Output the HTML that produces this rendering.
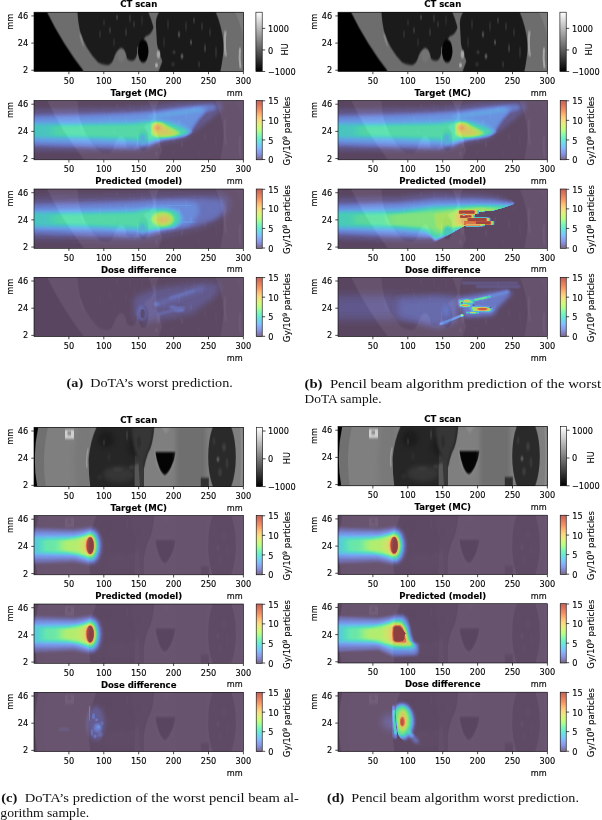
<!DOCTYPE html>
<html><head><meta charset="utf-8"><title>Figure</title>
<style>
html,body{margin:0;padding:0;background:#fff}
body{width:602px;height:820px;position:relative;overflow:hidden}
svg.fig{position:absolute;left:0;top:0}
svg.fig text{font-family:"DejaVu Sans","Liberation Sans",sans-serif;font-size:8.2px;fill:#000;stroke:#000;stroke-width:0.12px}
svg.fig text.cap{font-family:"Liberation Serif","DejaVu Serif",serif;font-size:11.8px;fill:#111;stroke:none}
</style></head><body>
<svg class="fig" width="602" height="820" viewBox="0 0 602 820">
<defs><filter id="turbo" color-interpolation-filters="sRGB" x="0" y="0" width="1" height="1"><feComponentTransfer><feFuncR type="table" tableValues="0.190 0.209 0.225 0.239 0.251 0.261 0.268 0.273 0.276 0.277 0.275 0.271 0.259 0.239 0.214 0.186 0.152 0.127 0.107 0.095 0.093 0.103 0.127 0.163 0.209 0.262 0.320 0.381 0.443 0.504 0.560 0.611 0.664 0.706 0.746 0.786 0.823 0.859 0.891 0.920 0.945 0.965 0.980 0.990 0.995 0.997 0.994 0.988 0.975 0.962 0.945 0.926 0.905 0.881 0.854 0.824 0.791 0.756 0.717 0.675 0.631 0.583 0.533 0.480"/><feFuncG type="table" tableValues="0.072 0.118 0.164 0.208 0.252 0.296 0.338 0.380 0.421 0.462 0.501 0.540 0.580 0.619 0.659 0.698 0.745 0.780 0.814 0.845 0.872 0.896 0.917 0.936 0.953 0.968 0.980 0.989 0.996 0.999 0.999 0.995 0.985 0.973 0.956 0.936 0.913 0.887 0.858 0.828 0.796 0.764 0.730 0.694 0.653 0.610 0.564 0.517 0.457 0.411 0.366 0.325 0.287 0.253 0.222 0.192 0.164 0.137 0.113 0.090 0.069 0.049 0.032 0.016"/><feFuncB type="table" tableValues="0.232 0.346 0.451 0.547 0.634 0.712 0.780 0.840 0.891 0.933 0.966 0.989 0.999 0.995 0.980 0.955 0.914 0.876 0.835 0.793 0.752 0.715 0.676 0.631 0.582 0.530 0.477 0.424 0.373 0.327 0.286 0.253 0.224 0.210 0.204 0.203 0.207 0.212 0.219 0.225 0.228 0.228 0.222 0.210 0.196 0.178 0.159 0.139 0.113 0.093 0.075 0.058 0.045 0.035 0.027 0.020 0.014 0.009 0.006 0.004 0.004 0.005 0.007 0.011"/></feComponentTransfer></filter><filter id="b07" x="-50%" y="-50%" width="200%" height="200%" color-interpolation-filters="sRGB"><feGaussianBlur stdDeviation="0.75 0.9"/></filter><filter id="b05" x="-50%" y="-50%" width="200%" height="200%" color-interpolation-filters="sRGB"><feGaussianBlur stdDeviation="0.5"/></filter><filter id="b1" x="-50%" y="-50%" width="200%" height="200%" color-interpolation-filters="sRGB"><feGaussianBlur stdDeviation="1"/></filter><filter id="b15" x="-50%" y="-50%" width="200%" height="200%" color-interpolation-filters="sRGB"><feGaussianBlur stdDeviation="1.5"/></filter><filter id="b2" x="-50%" y="-50%" width="200%" height="200%" color-interpolation-filters="sRGB"><feGaussianBlur stdDeviation="2"/></filter><filter id="b3" x="-50%" y="-50%" width="200%" height="200%" color-interpolation-filters="sRGB"><feGaussianBlur stdDeviation="3"/></filter><filter id="b4" x="-50%" y="-50%" width="200%" height="200%" color-interpolation-filters="sRGB"><feGaussianBlur stdDeviation="4"/></filter><filter id="b6" x="-50%" y="-50%" width="200%" height="200%" color-interpolation-filters="sRGB"><feGaussianBlur stdDeviation="6"/></filter><filter id="bx4" x="-50%" y="-50%" width="200%" height="200%" color-interpolation-filters="sRGB"><feGaussianBlur stdDeviation="4 1.2"/></filter><filter id="bx8" x="-50%" y="-50%" width="200%" height="200%" color-interpolation-filters="sRGB"><feGaussianBlur stdDeviation="8 2"/></filter><filter id="bx3" x="-50%" y="-50%" width="200%" height="200%" color-interpolation-filters="sRGB"><feGaussianBlur stdDeviation="3 1"/></filter><filter id="bx2" x="-50%" y="-50%" width="200%" height="200%" color-interpolation-filters="sRGB"><feGaussianBlur stdDeviation="2 0.7"/></filter><linearGradient id="cbg" x1="0" y1="0" x2="0" y2="1"><stop offset="0" stop-color="#fff"/><stop offset="1" stop-color="#000"/></linearGradient><linearGradient id="cbt" x1="0" y1="0" x2="0" y2="1"><stop offset="0" stop-color="#be635a"/><stop offset="0.04" stop-color="#d06c5a"/><stop offset="0.08" stop-color="#df775c"/><stop offset="0.12" stop-color="#eb835f"/><stop offset="0.17" stop-color="#f59465"/><stop offset="0.21" stop-color="#fba76d"/><stop offset="0.25" stop-color="#febb75"/><stop offset="0.29" stop-color="#fdcc7c"/><stop offset="0.33" stop-color="#f7dc7f"/><stop offset="0.38" stop-color="#ece97d"/><stop offset="0.42" stop-color="#ddf37b"/><stop offset="0.46" stop-color="#ccfb7d"/><stop offset="0.5" stop-color="#b8ff87"/><stop offset="0.54" stop-color="#a0fe99"/><stop offset="0.58" stop-color="#87faaf"/><stop offset="0.62" stop-color="#73f4c4"/><stop offset="0.67" stop-color="#69ead6"/><stop offset="0.71" stop-color="#6ddde7"/><stop offset="0.75" stop-color="#77cef6"/><stop offset="0.79" stop-color="#82befe"/><stop offset="0.83" stop-color="#87acf9"/><stop offset="0.88" stop-color="#879ce9"/><stop offset="0.92" stop-color="#848acf"/><stop offset="0.96" stop-color="#8078ac"/><stop offset="1" stop-color="#796580"/></linearGradient><g id="ct1"><g id="ct1r"><rect width="209.4" height="59.3" fill="#000"/><path d="M12.6,-1 Q28,31 50.5,60 L51.5,61 L211,61 L211,-1 Z" fill="#6d6d6d"/><path d="M43.3,-1 Q44,10 46,19 Q48.5,28 53,35.5 Q58,44 64,50 Q69,53.5 75,52.5 Q79,50.5 80.5,44 Q84,35 88.5,36.5 Q92,38.5 93,46.5 Q97,50.5 101,47 Q104,42 103,36 Q107,30 112,24 Q118,22 119.5,15 Q117,6 114,-1 Z" fill="#1b1b1b"/><ellipse cx="109.2" cy="38.8" rx="5.3" ry="11.5" fill="#030303" filter="url(#b05)"/><path d="M125.7,-1 Q121,6 122,14 Q122.5,24 123,32 Q125,42 128.4,49 Q126,55 124,61 L186,61 Q189.5,45 189.7,32 Q188,14 181.4,-1 Z" fill="#1a1a1a"/><path d="M200.6,-1 Q207,12 208.9,23 Q210,40 209,61 L211,61 L211,-1 Z" fill="#7b7b7b"/><g filter="url(#b05)"><path d="M191.5,19 Q190,32 191.8,44" stroke="#a2a2a2" stroke-width="2.2" fill="none"/><path d="M206,36 Q205,46 206.5,56" stroke="#a8a8a8" stroke-width="2" fill="none"/><ellipse cx="124.5" cy="42" rx="1.8" ry="4" fill="#a5a5a5"/><ellipse cx="122.5" cy="53" rx="1.5" ry="2" fill="#b5b5b5"/><ellipse cx="47.6" cy="27.5" rx="1.2" ry="7" fill="#848484" transform="rotate(-16 47.6 27.5)"/><ellipse cx="87.3" cy="43" rx="4" ry="7" fill="#747474"/></g><g filter="url(#b05)" fill="#3a3a3a"><ellipse cx="83" cy="5" rx="1" ry="2.5" fill="#444"/><ellipse cx="76" cy="18" rx="1" ry="3" fill="#3a3a3a"/><ellipse cx="70" cy="10" rx="0.8" ry="3" fill="#333"/><ellipse cx="92" cy="20" rx="1" ry="4" fill="#333"/><ellipse cx="100" cy="12" rx="0.9" ry="3" fill="#383838"/><ellipse cx="145" cy="22" rx="1.2" ry="3" fill="#4a4a4a"/><ellipse cx="157" cy="30" rx="1" ry="2.5" fill="#555"/><ellipse cx="148" cy="44" rx="1.4" ry="2.5" fill="#5a5a5a"/><ellipse cx="171" cy="36" rx="1" ry="4" fill="#3c3c3c"/><ellipse cx="140" cy="40" rx="1.5" ry="1.2" fill="#444"/><ellipse cx="160" cy="8" rx="1" ry="3" fill="#383838"/><ellipse cx="134" cy="12" rx="1" ry="5" fill="#2c2c2c"/><ellipse cx="176" cy="20" rx="1" ry="4" fill="#2e2e2e"/><ellipse cx="165" cy="52" rx="1" ry="3" fill="#333"/><ellipse cx="66" cy="22" rx="1" ry="4" fill="#2e2e2e"/><ellipse cx="108" cy="8" rx="1" ry="5" fill="#2b2b2b"/><ellipse cx="96" cy="6" rx="1.2" ry="4" fill="#303030"/><ellipse cx="80" cy="30" rx="1" ry="4" fill="#2c2c2c"/><ellipse cx="152" cy="14" rx="1" ry="5" fill="#2d2d2d"/><ellipse cx="182" cy="40" rx="1.2" ry="6" fill="#2c2c2c"/><ellipse cx="130" cy="30" rx="1" ry="5" fill="#2a2a2a"/><ellipse cx="139" cy="52" rx="2" ry="2" fill="#303030"/><ellipse cx="168" cy="14" rx="1" ry="4" fill="#303030"/></g></g><use href="#ct1r" filter="url(#b07)"/></g><g id="ct2"><g id="ct2r"><rect width="209.4" height="59.3" fill="#000"/><path d="M4.4,-1 Q-2.5,30 3.5,61 L211,61 L211,-1 Z" fill="#707070"/><path d="M14,-1 Q7,30 12,61 L211,61 L211,-1 Z" fill="#7f7f7f"/><path d="M44,-1 Q38,30 42,61 L58,61 L58,-1 Z" fill="#797979" filter="url(#b2)"/><path d="M62.9,-1 Q56,14 54.6,32 Q54.5,46 56.4,61 L110,61 L110,41 Q111,34 114,26 Q119,18 120.3,-1 Z" fill="#262626"/><g filter="url(#b2)"><ellipse cx="85" cy="47" rx="16" ry="8" fill="#363636"/><ellipse cx="72" cy="12" rx="8" ry="8" fill="#1c1c1c"/><ellipse cx="100" cy="20" rx="6" ry="10" fill="#1e1e1e"/></g><path d="M101,28 Q108,30 110,41 L110,61 L100,61 Z" fill="#383838"/><path d="M98,-1 L119,-1 Q118,16 113,25 Q110,32 110,40 L104,30 Q98,20 98,-1Z" fill="#363636" filter="url(#b1)"/><path d="M100.5,38 L104.5,36 L106,60 L101,60Z" fill="#565656" filter="url(#b05)"/><g filter="url(#b05)"><path d="M54.2,21 Q51.8,31 53,40" stroke="#9a9a9a" stroke-width="1.4" fill="none"/><rect x="31" y="2.5" width="9" height="9" fill="#cfcfcf"/><rect x="33.5" y="4" width="3.5" height="4" fill="#8a8a8a"/></g><path d="M126.6,-1 L131.6,6.5 L137.6,-1 Z" fill="#8c8c8c" filter="url(#b05)"/><path d="M119.8,22.6 L143.2,22.6 Q142,34 138.3,41.5 Q135,48.8 130.8,50 Q126.8,48.8 123.8,41.5 Q120.8,34 119.8,22.6 Z" fill="#878787" filter="url(#b05)"/><path d="M121.4,24.6 L141.6,24.6 Q140.5,33 137,40 Q134,46.3 130.8,47.6 Q127.6,46.3 125.2,40 Q122.5,33 121.4,24.6 Z" fill="#040404"/><rect x="142" y="-1" width="30" height="62" fill="#6f6f6f" filter="url(#b2)"/><ellipse cx="188" cy="29.5" rx="13.8" ry="40" fill="#2a2a2a"/><rect x="166.8" y="50.5" width="8" height="10" fill="#303030"/><path d="M207,-1 Q209,30 207,61" stroke="#8c8c8c" stroke-width="1.5" fill="none" filter="url(#b05)"/><g filter="url(#b05)"><ellipse cx="184" cy="32" rx="1.5" ry="2.5" fill="#5c5c5c"/><ellipse cx="190" cy="20" rx="2" ry="4" fill="#3c3c3c"/><ellipse cx="186" cy="45" rx="2" ry="4" fill="#3a3a3a"/><ellipse cx="193" cy="36" rx="1.5" ry="5" fill="#383838"/><ellipse cx="180" cy="14" rx="1.5" ry="4" fill="#353535"/><ellipse cx="84" cy="42" rx="5" ry="1.5" fill="#3d3d3d"/><ellipse cx="93" cy="8" rx="1" ry="5" fill="#3a3a3a"/><ellipse cx="70" cy="15" rx="1.2" ry="3" fill="#303030"/><ellipse cx="75" cy="30" rx="2" ry="4" fill="#2c2c2c"/><ellipse cx="98" cy="40" rx="3" ry="2" fill="#3a3a3a"/><ellipse cx="66" cy="50" rx="3" ry="3" fill="#2d2d2d"/><ellipse cx="105" cy="15" rx="2" ry="6" fill="#2e2e2e"/></g></g><use href="#ct2r" filter="url(#b07)"/></g></defs>
<svg x="34" y="12.2" width="209.4" height="59.3" viewBox="0 0 209.4 59.3"><use href="#ct1"/></svg>
<rect x="34" y="12.2" width="209.4" height="59.3" fill="none" stroke="#000" stroke-width="0.6"/><path d="M34,15.91h-2.7" stroke="#000" stroke-width="0.7"/><text x="28.1" y="18.91" text-anchor="end">46</text><path d="M34,43.09h-2.7" stroke="#000" stroke-width="0.7"/><text x="28.1" y="46.09" text-anchor="end">24</text><path d="M34,70.26h-2.7" stroke="#000" stroke-width="0.7"/><text x="28.1" y="73.26" text-anchor="end">2</text><path d="M68.9,71.5v2.7" stroke="#000" stroke-width="0.7"/><text x="68.9" y="83.7" text-anchor="middle">50</text><path d="M103.8,71.5v2.7" stroke="#000" stroke-width="0.7"/><text x="103.8" y="83.7" text-anchor="middle">100</text><path d="M138.7,71.5v2.7" stroke="#000" stroke-width="0.7"/><text x="138.7" y="83.7" text-anchor="middle">150</text><path d="M173.6,71.5v2.7" stroke="#000" stroke-width="0.7"/><text x="173.6" y="83.7" text-anchor="middle">200</text><path d="M208.5,71.5v2.7" stroke="#000" stroke-width="0.7"/><text x="208.5" y="83.7" text-anchor="middle">250</text><path d="M243.4,71.5v2.7" stroke="#000" stroke-width="0.7"/><text x="243.4" y="83.7" text-anchor="middle">300</text><text transform="translate(13,13.7) rotate(-90)" text-anchor="end">mm</text><text x="242.8" y="95.5" text-anchor="end">mm</text><text x="138.7" y="7.4" text-anchor="middle" font-weight="bold" style="font-size:8.55px">CT scan</text><rect x="255.9" y="12.2" width="6.3" height="59.3" fill="url(#cbg)" stroke="#000" stroke-width="0.6"/><path d="M262.2,28.37h3" stroke="#000" stroke-width="0.7"/><text x="268" y="32.07">1000</text><path d="M262.2,49.94h3" stroke="#000" stroke-width="0.7"/><text x="268" y="53.64">0</text><path d="M262.2,71.5h3" stroke="#000" stroke-width="0.7"/><text x="268" y="75.2">−1000</text><text transform="translate(288.1,49.4) rotate(-90)" text-anchor="middle">HU</text>
<svg x="34" y="100.5" width="209.4" height="59.3" viewBox="0 0 209.4 59.3"><rect width="209.4" height="59.3" fill="#fff"/><use href="#ct1" opacity="0.35"/><g opacity="0.65" filter="url(#turbo)"><rect x="-5" y="-5" width="219.4" height="69.3" fill="#000"/><path d="M-10,9 L60,8 L101,7 L110,6 L128,4 L147,2 L165,1 L182,1 L189,4 L187,10 L172,22 L160,32 L153,37.5 L141,40.5 L127,43 L116,48 L101,50.5 L-10,50Z" fill="#0a0a0a" filter="url(#b2)"/><path d="M-10,15 L60,13 L101,11.5 L120,10 L147,6.5 L167,4.5 L178,4 L182,6 L181,9 L171,12 L166.5,17 L161,24 L156.5,32 L151,36 L141,38 L126,40.5 L115,45.5 L101,48 L60,47 L-10,45Z" fill="#1c1c1c" filter="url(#b15)"/><path d="M-10,18 L60,16 L101,14 L120,12.5 L147,8.5 L165,6.5 L173,7 L172,10 L165,17 L160,24 L155.5,31.5 L150,35 L140,37 L126,39.3 L114,44 L101,45 L60,44 L-10,42Z" fill="#2b2b2b" filter="url(#b15)"/><path d="M116,16.5 L166,9.3" fill="none" stroke="#373737" stroke-width="3.6" stroke-linecap="round" stroke-linejoin="round" filter="url(#b15)"/><path d="M-10,21.5 L60,20.5 L101,19.5 L120,18 L135,19 L150,24 L156,29.5 L155.5,32 L150,34.5 L140,36.5 L126,38.7 L113,43 L101,42.5 L60,41 L-10,39.5Z" fill="#383838" filter="url(#b15)"/><path d="M-10,24 L60,23.5 L100,22.5 L117,20.5 L128,21 L140,24.5 L152,29.5 L154.3,31.6 L150,34 L140,36 L126,38 L113,41.5 L100,40 L60,38 L-10,36.5Z" fill="#4c4c4c" filter="url(#b15)"/><path d="M18,25.8 L100,24.5 L117,22 L128,22 L140,25.5 L150,30 L152.5,31.6 L149,33.5 L140,35.5 L126,37.3 L114,39.5 L100,37 L18,34.8Z" fill="#5c5c5c" filter="url(#bx4)"/><ellipse cx="108.8" cy="38.5" rx="3.2" ry="5.5" fill="#3c3c3c" filter="url(#b15)"/><path d="M117.5,23.5 L122,21.3 L128,22 L135,26.3 L144.5,31 L146.5,32.4 L143.5,34.8 L133,36.3 L122,36.5 L117.5,34Z" fill="#7a7a7a" filter="url(#b1)"/><path d="M118.4,24.2 L122.2,22.2 L127.4,23 L134.5,27.4 L141.5,31.6 L140.5,34.2 L133,35.4 L122.9,35.6 L118.4,33.1Z" fill="#8f8f8f" filter="url(#b1)"/><path d="M119.5,25 L123,23.5 L127,24.8 L131.5,28 L136,31.8 L132,33.8 L124,33.3 L120,31.5Z" fill="#9e9e9e" filter="url(#b1)"/><ellipse cx="123.3" cy="27.4" rx="3.4" ry="2.6" fill="#b5b5b5" filter="url(#b1)"/></g></svg>
<rect x="34" y="100.5" width="209.4" height="59.3" fill="none" stroke="#000" stroke-width="0.6"/><path d="M34,104.21h-2.7" stroke="#000" stroke-width="0.7"/><text x="28.1" y="107.21" text-anchor="end">46</text><path d="M34,131.39h-2.7" stroke="#000" stroke-width="0.7"/><text x="28.1" y="134.39" text-anchor="end">24</text><path d="M34,158.56h-2.7" stroke="#000" stroke-width="0.7"/><text x="28.1" y="161.56" text-anchor="end">2</text><path d="M68.9,159.8v2.7" stroke="#000" stroke-width="0.7"/><text x="68.9" y="172" text-anchor="middle">50</text><path d="M103.8,159.8v2.7" stroke="#000" stroke-width="0.7"/><text x="103.8" y="172" text-anchor="middle">100</text><path d="M138.7,159.8v2.7" stroke="#000" stroke-width="0.7"/><text x="138.7" y="172" text-anchor="middle">150</text><path d="M173.6,159.8v2.7" stroke="#000" stroke-width="0.7"/><text x="173.6" y="172" text-anchor="middle">200</text><path d="M208.5,159.8v2.7" stroke="#000" stroke-width="0.7"/><text x="208.5" y="172" text-anchor="middle">250</text><path d="M243.4,159.8v2.7" stroke="#000" stroke-width="0.7"/><text x="243.4" y="172" text-anchor="middle">300</text><text transform="translate(13,102) rotate(-90)" text-anchor="end">mm</text><text x="242.8" y="183.8" text-anchor="end">mm</text><text x="138.7" y="95.7" text-anchor="middle" font-weight="bold" style="font-size:8.55px">Target (MC)</text><rect x="256.2" y="100.5" width="6" height="59.3" fill="url(#cbt)" stroke="#000" stroke-width="0.6"/><path d="M262.2,100.8h3" stroke="#000" stroke-width="0.7"/><text x="268.2" y="104.4">15</text><path d="M262.2,120.37h3" stroke="#000" stroke-width="0.7"/><text x="268.2" y="123.97">10</text><path d="M262.2,139.93h3" stroke="#000" stroke-width="0.7"/><text x="268.2" y="143.53">5</text><path d="M262.2,159.5h3" stroke="#000" stroke-width="0.7"/><text x="268.2" y="163.1">0</text><text transform="translate(290.2,130.95) rotate(-90)" text-anchor="middle" style="font-size:8.6px">Gy/10<tspan dy="-3.2" font-size="6">9</tspan><tspan dy="3.2"> particles</tspan></text>
<svg x="34" y="189" width="209.4" height="59.3" viewBox="0 0 209.4 59.3"><rect width="209.4" height="59.3" fill="#fff"/><use href="#ct1" opacity="0.35"/><g opacity="0.65" filter="url(#turbo)"><rect x="-5" y="-5" width="219.4" height="69.3" fill="#000"/><path d="M-10,9 L60,8 L101,7 L110,6 L147,5 L186,5 L195,9 L194,22 L186,30 L165,39 L147,42.5 L128,47 L110,50.5 L-10,50Z" fill="#0a0a0a" filter="url(#b3)"/><path d="M-10,15 L60,13 L101,12 L120,11 L147,10 L170,10 L186,11 L190,16 L188,24 L180,30 L160,36.5 L140,40 L126,42.5 L115,46 L101,48 L60,47 L-10,45Z" fill="#171717" filter="url(#b2)"/><path d="M-10,18 L60,16 L101,14.5 L120,13 L147,12.5 L158,13 L164,15 L165,24 L160,32 L154,36.5 L140,38.5 L126,41 L114,44.5 L101,45 L60,44 L-10,42Z" fill="#262626" filter="url(#b2)"/><path d="M116,16.5 L156,16.8" fill="none" stroke="#323232" stroke-width="4.2" stroke-linecap="round" stroke-linejoin="round" filter="url(#b2)"/><path d="M147,33 L157,32.5" fill="none" stroke="#2f2f2f" stroke-width="5.5" stroke-linecap="round" stroke-linejoin="round" filter="url(#b2)"/><path d="M-10,21.5 L60,20.5 L101,19.5 L114,18.5 L135,18.5 L145,21 L148,27 L147,34 L142,38 L126,40.3 L113,43 L101,42.5 L60,41 L-10,39.5Z" fill="#383838" filter="url(#b15)"/><path d="M-10,24 L60,23.5 L100,22.5 L114,20 L132,19.8 L142,22.5 L145.5,28 L144.5,34 L139,38 L126,39.8 L113,41.5 L100,40 L60,38 L-10,36.5Z" fill="#4c4c4c" filter="url(#b15)"/><path d="M18,25.8 L100,24.5 L114,21.5 L132,21.2 L140,24 L143.5,28.5 L142.5,33.5 L137,37.3 L126,39 L114,40 L100,37 L18,34.8Z" fill="#5c5c5c" filter="url(#bx4)"/><ellipse cx="108.5" cy="39.5" rx="3.2" ry="4.8" fill="#3e3e3e" filter="url(#b15)"/><ellipse cx="128.5" cy="30.2" rx="11.5" ry="7.3" fill="#787878" filter="url(#b15)"/><ellipse cx="128.7" cy="30.2" rx="9.3" ry="5.8" fill="#919191" filter="url(#b15)"/><ellipse cx="129.3" cy="30.8" rx="5.2" ry="3.2" fill="#a2a2a2" filter="url(#b1)"/></g></svg>
<rect x="34" y="189" width="209.4" height="59.3" fill="none" stroke="#000" stroke-width="0.6"/><path d="M34,192.71h-2.7" stroke="#000" stroke-width="0.7"/><text x="28.1" y="195.71" text-anchor="end">46</text><path d="M34,219.89h-2.7" stroke="#000" stroke-width="0.7"/><text x="28.1" y="222.89" text-anchor="end">24</text><path d="M34,247.06h-2.7" stroke="#000" stroke-width="0.7"/><text x="28.1" y="250.06" text-anchor="end">2</text><path d="M68.9,248.3v2.7" stroke="#000" stroke-width="0.7"/><text x="68.9" y="260.5" text-anchor="middle">50</text><path d="M103.8,248.3v2.7" stroke="#000" stroke-width="0.7"/><text x="103.8" y="260.5" text-anchor="middle">100</text><path d="M138.7,248.3v2.7" stroke="#000" stroke-width="0.7"/><text x="138.7" y="260.5" text-anchor="middle">150</text><path d="M173.6,248.3v2.7" stroke="#000" stroke-width="0.7"/><text x="173.6" y="260.5" text-anchor="middle">200</text><path d="M208.5,248.3v2.7" stroke="#000" stroke-width="0.7"/><text x="208.5" y="260.5" text-anchor="middle">250</text><path d="M243.4,248.3v2.7" stroke="#000" stroke-width="0.7"/><text x="243.4" y="260.5" text-anchor="middle">300</text><text transform="translate(13,190.5) rotate(-90)" text-anchor="end">mm</text><text x="242.8" y="272.3" text-anchor="end">mm</text><text x="138.7" y="184.2" text-anchor="middle" font-weight="bold" style="font-size:8.55px">Predicted (model)</text><rect x="256.2" y="189" width="6" height="59.3" fill="url(#cbt)" stroke="#000" stroke-width="0.6"/><path d="M262.2,189.3h3" stroke="#000" stroke-width="0.7"/><text x="268.2" y="192.9">15</text><path d="M262.2,208.87h3" stroke="#000" stroke-width="0.7"/><text x="268.2" y="212.47">10</text><path d="M262.2,228.43h3" stroke="#000" stroke-width="0.7"/><text x="268.2" y="232.03">5</text><path d="M262.2,248h3" stroke="#000" stroke-width="0.7"/><text x="268.2" y="251.6">0</text><text transform="translate(290.2,219.45) rotate(-90)" text-anchor="middle" style="font-size:8.6px">Gy/10<tspan dy="-3.2" font-size="6">9</tspan><tspan dy="3.2"> particles</tspan></text>
<svg x="34" y="277.3" width="209.4" height="59.3" viewBox="0 0 209.4 59.3"><rect width="209.4" height="59.3" fill="#fff"/><use href="#ct1" opacity="0.35"/><g opacity="0.65" filter="url(#turbo)"><rect x="-5" y="-5" width="219.4" height="69.3" fill="#000"/><path d="M100,20 L120,12 L170,5 L186,7 L182,18 L158,36 L110,45 L100,40Z" fill="#0a0a0a" filter="url(#b3)"/><path d="M126,26 L168,11" fill="none" stroke="#121212" stroke-width="5" stroke-linecap="round" stroke-linejoin="round" filter="url(#b2)"/><path d="M136,21 L160,13.5" fill="none" stroke="#1a1a1a" stroke-width="2.2" stroke-linecap="round" stroke-linejoin="round" filter="url(#b1)"/><ellipse cx="144.9" cy="32.2" rx="5.5" ry="2" fill="#212121" filter="url(#b1)"/><ellipse cx="139" cy="30" rx="4" ry="1.6" fill="#1a1a1a" filter="url(#b1)"/><ellipse cx="107.4" cy="35" rx="4" ry="7.5" fill="#131313" filter="url(#b15)"/><ellipse cx="108.6" cy="36.5" rx="2.2" ry="4.5" fill="#030303" filter="url(#b05)"/><ellipse cx="122.9" cy="26.7" rx="3" ry="2" fill="#1a1a1a" filter="url(#b1)"/><path d="M124,37 L150,30.5" fill="none" stroke="#121212" stroke-width="2.5" stroke-linecap="round" stroke-linejoin="round" filter="url(#b1)"/></g></svg>
<rect x="34" y="277.3" width="209.4" height="59.3" fill="none" stroke="#000" stroke-width="0.6"/><path d="M34,281.01h-2.7" stroke="#000" stroke-width="0.7"/><text x="28.1" y="284.01" text-anchor="end">46</text><path d="M34,308.19h-2.7" stroke="#000" stroke-width="0.7"/><text x="28.1" y="311.19" text-anchor="end">24</text><path d="M34,335.36h-2.7" stroke="#000" stroke-width="0.7"/><text x="28.1" y="338.36" text-anchor="end">2</text><path d="M68.9,336.6v2.7" stroke="#000" stroke-width="0.7"/><text x="68.9" y="348.8" text-anchor="middle">50</text><path d="M103.8,336.6v2.7" stroke="#000" stroke-width="0.7"/><text x="103.8" y="348.8" text-anchor="middle">100</text><path d="M138.7,336.6v2.7" stroke="#000" stroke-width="0.7"/><text x="138.7" y="348.8" text-anchor="middle">150</text><path d="M173.6,336.6v2.7" stroke="#000" stroke-width="0.7"/><text x="173.6" y="348.8" text-anchor="middle">200</text><path d="M208.5,336.6v2.7" stroke="#000" stroke-width="0.7"/><text x="208.5" y="348.8" text-anchor="middle">250</text><path d="M243.4,336.6v2.7" stroke="#000" stroke-width="0.7"/><text x="243.4" y="348.8" text-anchor="middle">300</text><text transform="translate(13,278.8) rotate(-90)" text-anchor="end">mm</text><text x="242.8" y="360.6" text-anchor="end">mm</text><text x="138.7" y="272.5" text-anchor="middle" font-weight="bold" style="font-size:8.55px">Dose difference</text><rect x="256.2" y="277.3" width="6" height="59.3" fill="url(#cbt)" stroke="#000" stroke-width="0.6"/><path d="M262.2,277.6h3" stroke="#000" stroke-width="0.7"/><text x="268.2" y="281.2">15</text><path d="M262.2,297.17h3" stroke="#000" stroke-width="0.7"/><text x="268.2" y="300.77">10</text><path d="M262.2,316.73h3" stroke="#000" stroke-width="0.7"/><text x="268.2" y="320.33">5</text><path d="M262.2,336.3h3" stroke="#000" stroke-width="0.7"/><text x="268.2" y="339.9">0</text><text transform="translate(290.2,307.75) rotate(-90)" text-anchor="middle" style="font-size:8.6px">Gy/10<tspan dy="-3.2" font-size="6">9</tspan><tspan dy="3.2"> particles</tspan></text>
<svg x="338" y="12.2" width="209.4" height="59.3" viewBox="0 0 209.4 59.3"><use href="#ct1"/></svg>
<rect x="338" y="12.2" width="209.4" height="59.3" fill="none" stroke="#000" stroke-width="0.6"/><path d="M338,15.91h-2.7" stroke="#000" stroke-width="0.7"/><text x="332.1" y="18.91" text-anchor="end">46</text><path d="M338,43.09h-2.7" stroke="#000" stroke-width="0.7"/><text x="332.1" y="46.09" text-anchor="end">24</text><path d="M338,70.26h-2.7" stroke="#000" stroke-width="0.7"/><text x="332.1" y="73.26" text-anchor="end">2</text><path d="M372.9,71.5v2.7" stroke="#000" stroke-width="0.7"/><text x="372.9" y="83.7" text-anchor="middle">50</text><path d="M407.8,71.5v2.7" stroke="#000" stroke-width="0.7"/><text x="407.8" y="83.7" text-anchor="middle">100</text><path d="M442.7,71.5v2.7" stroke="#000" stroke-width="0.7"/><text x="442.7" y="83.7" text-anchor="middle">150</text><path d="M477.6,71.5v2.7" stroke="#000" stroke-width="0.7"/><text x="477.6" y="83.7" text-anchor="middle">200</text><path d="M512.5,71.5v2.7" stroke="#000" stroke-width="0.7"/><text x="512.5" y="83.7" text-anchor="middle">250</text><path d="M547.4,71.5v2.7" stroke="#000" stroke-width="0.7"/><text x="547.4" y="83.7" text-anchor="middle">300</text><text transform="translate(317,13.7) rotate(-90)" text-anchor="end">mm</text><text x="546.8" y="95.5" text-anchor="end">mm</text><text x="442.7" y="7.4" text-anchor="middle" font-weight="bold" style="font-size:8.55px">CT scan</text><rect x="559.9" y="12.2" width="6.3" height="59.3" fill="url(#cbg)" stroke="#000" stroke-width="0.6"/><path d="M566.2,28.37h3" stroke="#000" stroke-width="0.7"/><text x="572" y="32.07">1000</text><path d="M566.2,49.94h3" stroke="#000" stroke-width="0.7"/><text x="572" y="53.64">0</text><path d="M566.2,71.5h3" stroke="#000" stroke-width="0.7"/><text x="572" y="75.2">−1000</text><text transform="translate(592.1,49.4) rotate(-90)" text-anchor="middle">HU</text>
<svg x="338" y="100.5" width="209.4" height="59.3" viewBox="0 0 209.4 59.3"><rect width="209.4" height="59.3" fill="#fff"/><use href="#ct1" opacity="0.35"/><g opacity="0.65" filter="url(#turbo)"><rect x="-5" y="-5" width="219.4" height="69.3" fill="#000"/><path d="M-10,9 L60,8 L101,7 L110,6 L128,4 L147,2 L165,1 L182,1 L189,4 L187,10 L172,22 L160,32 L153,37.5 L141,40.5 L127,43 L116,48 L101,50.5 L-10,50Z" fill="#0a0a0a" filter="url(#b2)"/><path d="M-10,15 L60,13 L101,11.5 L120,10 L147,6.5 L167,4.5 L178,4 L182,6 L181,9 L171,12 L166.5,17 L161,24 L156.5,32 L151,36 L141,38 L126,40.5 L115,45.5 L101,48 L60,47 L-10,45Z" fill="#1c1c1c" filter="url(#b15)"/><path d="M-10,18 L60,16 L101,14 L120,12.5 L147,8.5 L165,6.5 L173,7 L172,10 L165,17 L160,24 L155.5,31.5 L150,35 L140,37 L126,39.3 L114,44 L101,45 L60,44 L-10,42Z" fill="#2b2b2b" filter="url(#b15)"/><path d="M116,16.5 L166,9.3" fill="none" stroke="#373737" stroke-width="3.6" stroke-linecap="round" stroke-linejoin="round" filter="url(#b15)"/><path d="M-10,21.5 L60,20.5 L101,19.5 L120,18 L135,19 L150,24 L156,29.5 L155.5,32 L150,34.5 L140,36.5 L126,38.7 L113,43 L101,42.5 L60,41 L-10,39.5Z" fill="#383838" filter="url(#b15)"/><path d="M-10,24 L60,23.5 L100,22.5 L117,20.5 L128,21 L140,24.5 L152,29.5 L154.3,31.6 L150,34 L140,36 L126,38 L113,41.5 L100,40 L60,38 L-10,36.5Z" fill="#4c4c4c" filter="url(#b15)"/><path d="M18,25.8 L100,24.5 L117,22 L128,22 L140,25.5 L150,30 L152.5,31.6 L149,33.5 L140,35.5 L126,37.3 L114,39.5 L100,37 L18,34.8Z" fill="#5c5c5c" filter="url(#bx4)"/><ellipse cx="108.8" cy="38.5" rx="3.2" ry="5.5" fill="#3c3c3c" filter="url(#b15)"/><path d="M117.5,23.5 L122,21.3 L128,22 L135,26.3 L144.5,31 L146.5,32.4 L143.5,34.8 L133,36.3 L122,36.5 L117.5,34Z" fill="#7a7a7a" filter="url(#b1)"/><path d="M118.4,24.2 L122.2,22.2 L127.4,23 L134.5,27.4 L141.5,31.6 L140.5,34.2 L133,35.4 L122.9,35.6 L118.4,33.1Z" fill="#8f8f8f" filter="url(#b1)"/><path d="M119.5,25 L123,23.5 L127,24.8 L131.5,28 L136,31.8 L132,33.8 L124,33.3 L120,31.5Z" fill="#9e9e9e" filter="url(#b1)"/><ellipse cx="123.3" cy="27.4" rx="3.4" ry="2.6" fill="#b5b5b5" filter="url(#b1)"/></g></svg>
<rect x="338" y="100.5" width="209.4" height="59.3" fill="none" stroke="#000" stroke-width="0.6"/><path d="M338,104.21h-2.7" stroke="#000" stroke-width="0.7"/><text x="332.1" y="107.21" text-anchor="end">46</text><path d="M338,131.39h-2.7" stroke="#000" stroke-width="0.7"/><text x="332.1" y="134.39" text-anchor="end">24</text><path d="M338,158.56h-2.7" stroke="#000" stroke-width="0.7"/><text x="332.1" y="161.56" text-anchor="end">2</text><path d="M372.9,159.8v2.7" stroke="#000" stroke-width="0.7"/><text x="372.9" y="172" text-anchor="middle">50</text><path d="M407.8,159.8v2.7" stroke="#000" stroke-width="0.7"/><text x="407.8" y="172" text-anchor="middle">100</text><path d="M442.7,159.8v2.7" stroke="#000" stroke-width="0.7"/><text x="442.7" y="172" text-anchor="middle">150</text><path d="M477.6,159.8v2.7" stroke="#000" stroke-width="0.7"/><text x="477.6" y="172" text-anchor="middle">200</text><path d="M512.5,159.8v2.7" stroke="#000" stroke-width="0.7"/><text x="512.5" y="172" text-anchor="middle">250</text><path d="M547.4,159.8v2.7" stroke="#000" stroke-width="0.7"/><text x="547.4" y="172" text-anchor="middle">300</text><text transform="translate(317,102) rotate(-90)" text-anchor="end">mm</text><text x="546.8" y="183.8" text-anchor="end">mm</text><text x="442.7" y="95.7" text-anchor="middle" font-weight="bold" style="font-size:8.55px">Target (MC)</text><rect x="560.2" y="100.5" width="6" height="59.3" fill="url(#cbt)" stroke="#000" stroke-width="0.6"/><path d="M566.2,100.8h3" stroke="#000" stroke-width="0.7"/><text x="572.2" y="104.4">15</text><path d="M566.2,120.37h3" stroke="#000" stroke-width="0.7"/><text x="572.2" y="123.97">10</text><path d="M566.2,139.93h3" stroke="#000" stroke-width="0.7"/><text x="572.2" y="143.53">5</text><path d="M566.2,159.5h3" stroke="#000" stroke-width="0.7"/><text x="572.2" y="163.1">0</text><text transform="translate(594.2,130.95) rotate(-90)" text-anchor="middle" style="font-size:8.6px">Gy/10<tspan dy="-3.2" font-size="6">9</tspan><tspan dy="3.2"> particles</tspan></text>
<svg x="338" y="189" width="209.4" height="59.3" viewBox="0 0 209.4 59.3"><rect width="209.4" height="59.3" fill="#fff"/><use href="#ct1" opacity="0.35"/><g opacity="0.65" filter="url(#turbo)"><rect x="-5" y="-5" width="219.4" height="69.3" fill="#000"/><clipPath id="cpb"><path d="M-10,-10 L150,-10 L165,5 L173,10 L176.5,14 L175,15.5 L164,19 L156,21.3 L137,22.9 L137,25.5 L134,29 L131,36 L126,37.1 L96,54.3 L90,62 L-10,62Z"/></clipPath><g clip-path="url(#cpb)"><path d="M-10,9 L60,8 L96,4.5 L140,5.5 L157,7 L168,10 L178,13 L190,14 L190,53 L60,52 L-10,50Z" fill="#0a0a0a" filter="url(#b2)"/><path d="M-10,15 L60,13 L96,9.5 L140,9.5 L157,10.5 L168,12.5 L180,14.5 L190,16 L190,50 L60,48 L-10,45Z" fill="#1a1a1a" filter="url(#b15)"/><path d="M-10,18 L60,16 L96,13 L140,12.5 L157,13.3 L168,14.3 L182,15 L190,18 L190,48 L87,47 L60,45 L-10,42Z" fill="#2b2b2b" filter="url(#b15)"/><path d="M-10,21.5 L60,20 L96,16 L140,15 L157,15.3 L170,15.6 L190,16 L190,46.5 L100,46 L87,44 L60,41.5 L-10,39.5Z" fill="#404040" filter="url(#b1)"/><path d="M-10,24 L60,23 L96,18.5 L140,16.5 L157,16.8 L168,17 L180,19 L180,45 L125,45 L125,35.8 L97,51.5 L92,45 L87,41 L60,38.5 L-10,36.5Z" fill="#525252" filter="url(#b1)"/><path d="M15,25.5 L60,24.5 L96,20 L140,17.6 L157,18 L164,18.3 L170,20 L170,45 L125,45 L125,34.5 L99,48 L93,43 L87,39.5 L60,37 L15,35Z" fill="#616161" filter="url(#bx4)"/><path d="M50,26 L96,22.5 L121,19.8 L140,18.6 L157,19 L160,19.5 L165,21 L165,40 L125,40 L125,34 L101,45.5 L94,40.5 L87,38 L50,35.5Z" fill="#707070" filter="url(#bx4)"/><path d="M96,25 L115,22.5 L125,21 L140,19.6 L154,20 L156,21 L156,40 L125,40 L125,34 L104,42 L98,38Z" fill="#808080" filter="url(#b1)"/><ellipse cx="109.5" cy="41.5" rx="4.2" ry="4.6" fill="#4c4c4c" filter="url(#b15)"/><path d="M116,26 L121,22.5 L137,21 L141,21.2 L141,40 L125,40 L125,35 L119,37.5 L116,35Z" fill="#969696" filter="url(#b1)"/><path d="M120,23.5 L131,22 L140,22 L140,40 L126,40 L126,36.5 L120.5,34.5Z" fill="#a8a8a8" filter="url(#b1)"/></g><g filter="url(#b05)"><path d="M120.7,21.5 L141,21.5 L141,24.7 L120.7,24.7Z" fill="#383838" filter="url(#b05)"/><path d="M120.7,21.5 L140.08,21.5 L140.08,24.7 L120.7,24.7Z" fill="#5c5c5c" filter="url(#b05)"/><path d="M120.7,21.5 L139.16,21.5 L139.16,24.7 L120.7,24.7Z" fill="#808080" filter="url(#b05)"/><path d="M120.7,21.5 L138.24,21.5 L138.24,24.7 L120.7,24.7Z" fill="#a3a3a3" filter="url(#b05)"/><path d="M120.7,21.5 L137.32,21.5 L137.32,24.7 L120.7,24.7Z" fill="#c7c7c7" filter="url(#b05)"/><path d="M120.7,21.5 L136.4,21.5 L136.4,24.7 L120.7,24.7Z" fill="#f5f5f5"/></g><g filter="url(#b05)"><path d="M122,26.3 L136.6,26.3 L136.6,28.9 L122,28.9Z" fill="#383838" filter="url(#b05)"/><path d="M122,26.3 L135.92,26.3 L135.92,28.9 L122,28.9Z" fill="#5c5c5c" filter="url(#b05)"/><path d="M122,26.3 L135.24,26.3 L135.24,28.9 L122,28.9Z" fill="#808080" filter="url(#b05)"/><path d="M122,26.3 L134.56,26.3 L134.56,28.9 L122,28.9Z" fill="#a3a3a3" filter="url(#b05)"/><path d="M122,26.3 L133.88,26.3 L133.88,28.9 L122,28.9Z" fill="#c7c7c7" filter="url(#b05)"/><path d="M122,26.3 L133.2,26.3 L133.2,28.9 L122,28.9Z" fill="#f5f5f5"/></g><g filter="url(#b05)"><path d="M129.5,28.9 L152.3,28.9 L152.3,32.2 L129.5,32.2Z" fill="#383838" filter="url(#b05)"/><path d="M129.5,28.9 L151.5,28.9 L151.5,32.2 L129.5,32.2Z" fill="#5c5c5c" filter="url(#b05)"/><path d="M129.5,28.9 L150.7,28.9 L150.7,32.2 L129.5,32.2Z" fill="#808080" filter="url(#b05)"/><path d="M129.5,28.9 L149.9,28.9 L149.9,32.2 L129.5,32.2Z" fill="#a3a3a3" filter="url(#b05)"/><path d="M129.5,28.9 L149.1,28.9 L149.1,32.2 L129.5,32.2Z" fill="#c7c7c7" filter="url(#b05)"/><path d="M129.5,28.9 L148.3,28.9 L148.3,32.2 L129.5,32.2Z" fill="#f5f5f5"/></g><g filter="url(#b05)"><path d="M126,32.2 L156.2,32.2 L156.2,35.6 L126,35.6Z" fill="#383838" filter="url(#b05)"/><path d="M126,32.2 L155.48,32.2 L155.48,35.6 L126,35.6Z" fill="#5c5c5c" filter="url(#b05)"/><path d="M126,32.2 L154.76,32.2 L154.76,35.6 L126,35.6Z" fill="#808080" filter="url(#b05)"/><path d="M126,32.2 L154.04,32.2 L154.04,35.6 L126,35.6Z" fill="#a3a3a3" filter="url(#b05)"/><path d="M126,32.2 L153.32,32.2 L153.32,35.6 L126,35.6Z" fill="#c7c7c7" filter="url(#b05)"/><path d="M126,32.2 L152.6,32.2 L152.6,35.6 L126,35.6Z" fill="#f5f5f5"/><path d="M126,32.2 L137.97,32.2 L137.97,35.6 L126,35.6Z" fill="#cccccc" filter="url(#b05)"/></g><g filter="url(#b05)"><path d="M128,35.6 L147,35.6 L147,37.1 L128,37.1Z" fill="#383838" filter="url(#b05)"/><path d="M128,35.6 L145.8,35.6 L145.8,37.1 L128,37.1Z" fill="#5c5c5c" filter="url(#b05)"/><path d="M128,35.6 L144.6,35.6 L144.6,37.1 L128,37.1Z" fill="#808080" filter="url(#b05)"/><path d="M128,35.6 L143.4,35.6 L143.4,37.1 L128,37.1Z" fill="#a3a3a3" filter="url(#b05)"/><path d="M128,35.6 L142.2,35.6 L142.2,37.1 L128,37.1Z" fill="#c7c7c7" filter="url(#b05)"/><path d="M128,35.6 L141,35.6 L141,37.1 L128,37.1Z" fill="#bdbdbd"/></g><ellipse cx="125.9" cy="25.6" rx="1.5" ry="0.8" fill="#333333" filter="url(#b05)"/></g></svg>
<rect x="338" y="189" width="209.4" height="59.3" fill="none" stroke="#000" stroke-width="0.6"/><path d="M338,192.71h-2.7" stroke="#000" stroke-width="0.7"/><text x="332.1" y="195.71" text-anchor="end">46</text><path d="M338,219.89h-2.7" stroke="#000" stroke-width="0.7"/><text x="332.1" y="222.89" text-anchor="end">24</text><path d="M338,247.06h-2.7" stroke="#000" stroke-width="0.7"/><text x="332.1" y="250.06" text-anchor="end">2</text><path d="M372.9,248.3v2.7" stroke="#000" stroke-width="0.7"/><text x="372.9" y="260.5" text-anchor="middle">50</text><path d="M407.8,248.3v2.7" stroke="#000" stroke-width="0.7"/><text x="407.8" y="260.5" text-anchor="middle">100</text><path d="M442.7,248.3v2.7" stroke="#000" stroke-width="0.7"/><text x="442.7" y="260.5" text-anchor="middle">150</text><path d="M477.6,248.3v2.7" stroke="#000" stroke-width="0.7"/><text x="477.6" y="260.5" text-anchor="middle">200</text><path d="M512.5,248.3v2.7" stroke="#000" stroke-width="0.7"/><text x="512.5" y="260.5" text-anchor="middle">250</text><path d="M547.4,248.3v2.7" stroke="#000" stroke-width="0.7"/><text x="547.4" y="260.5" text-anchor="middle">300</text><text transform="translate(317,190.5) rotate(-90)" text-anchor="end">mm</text><text x="546.8" y="272.3" text-anchor="end">mm</text><text x="442.7" y="184.2" text-anchor="middle" font-weight="bold" style="font-size:8.55px">Predicted (model)</text><rect x="560.2" y="189" width="6" height="59.3" fill="url(#cbt)" stroke="#000" stroke-width="0.6"/><path d="M566.2,189.3h3" stroke="#000" stroke-width="0.7"/><text x="572.2" y="192.9">15</text><path d="M566.2,208.87h3" stroke="#000" stroke-width="0.7"/><text x="572.2" y="212.47">10</text><path d="M566.2,228.43h3" stroke="#000" stroke-width="0.7"/><text x="572.2" y="232.03">5</text><path d="M566.2,248h3" stroke="#000" stroke-width="0.7"/><text x="572.2" y="251.6">0</text><text transform="translate(594.2,219.45) rotate(-90)" text-anchor="middle" style="font-size:8.6px">Gy/10<tspan dy="-3.2" font-size="6">9</tspan><tspan dy="3.2"> particles</tspan></text>
<svg x="338" y="277.3" width="209.4" height="59.3" viewBox="0 0 209.4 59.3"><rect width="209.4" height="59.3" fill="#fff"/><use href="#ct1" opacity="0.35"/><g opacity="0.65" filter="url(#turbo)"><rect x="-5" y="-5" width="219.4" height="69.3" fill="#000"/><path d="M-10,18.5 L106,18.5 L106,42 L-10,42Z" fill="#0a0a0a" filter="url(#b4)"/><path d="M60,22 L106,19 L122,20 L118,44 L100,50 L60,40Z" fill="#121212" filter="url(#b3)"/><path d="M121,20 L168,13 L174,16 L160,30 L155,38 L126,40Z" fill="#1b1b1b" filter="url(#b2)"/><path d="M124,4.7 L180,4.7 L180,6.5 L124,6.5Z" fill="#0e0e0e" filter="url(#b1)"/><path d="M138,8.2 L182,8.2 L182,10.2 L138,10.2Z" fill="#0f0f0f" filter="url(#b1)"/><ellipse cx="108" cy="33" rx="4" ry="6" fill="#1a1a1a" filter="url(#b15)"/><ellipse cx="106.5" cy="45" rx="3.5" ry="1.6" fill="#212121" filter="url(#b1)"/><path d="M102.7,46.5 L124.4,37.9" fill="none" stroke="#2b2b2b" stroke-width="2.4" stroke-linecap="round" stroke-linejoin="round" filter="url(#b05)"/><ellipse cx="124" cy="38.1" rx="1.5" ry="1.1" fill="#808080" filter="url(#b05)"/><path d="M136.4,22.6 L155.8,18.1 L170,14.5" fill="none" stroke="#292929" stroke-width="2.6" stroke-linecap="round" stroke-linejoin="round" filter="url(#b1)"/><path d="M136.4,22.6 L152,19.3" fill="none" stroke="#4c4c4c" stroke-width="2.2" stroke-linecap="round" stroke-linejoin="round" filter="url(#b05)"/><path d="M137,22.5 L148,20.4" fill="none" stroke="#6b6b6b" stroke-width="1.8" stroke-linecap="round" stroke-linejoin="round" filter="url(#b05)"/><path d="M120.7,22.5 L135.5,22.2 L136.5,24.5 L133,29.2 L121.5,29.2Z" fill="#454545" filter="url(#b1)"/><path d="M121.5,23.2 L134.5,23 L134.8,25.6 L122,26Z" fill="#6b6b6b" filter="url(#b05)"/><ellipse cx="128.8" cy="23.3" rx="3" ry="1.2" fill="#a8a8a8" filter="url(#b05)"/><path d="M122,27.2 L132,27.4 L132,29.2 L122.5,29Z" fill="#8c8c8c" filter="url(#b05)"/><ellipse cx="127" cy="28.2" rx="3.2" ry="1" fill="#b8b8b8" filter="url(#b05)"/><ellipse cx="124" cy="25.5" rx="1.1" ry="0.9" fill="#050505" filter="url(#b05)"/><path d="M132,29 L152,30 L155.5,32.4 L152,34.4 L133.4,34Z" fill="#4c4c4c" filter="url(#b1)"/><path d="M134,29.6 L151,30.4 L153,32.4 L151,33.9 L135,33.6Z" fill="#858585" filter="url(#b05)"/><ellipse cx="144.5" cy="31.7" rx="6.5" ry="1.7" fill="#b8b8b8" filter="url(#b05)"/><ellipse cx="144.5" cy="31.7" rx="4.5" ry="1.2" fill="#dbdbdb" filter="url(#b05)"/><path d="M128,34.4 L141,34.6 L141,36.2 L128,36Z" fill="#4c4c4c" filter="url(#b05)"/><ellipse cx="135" cy="35.3" rx="3.2" ry="0.9" fill="#8c8c8c" filter="url(#b05)"/><ellipse cx="135.5" cy="27.8" rx="1.1" ry="0.9" fill="#050505" filter="url(#b05)"/><ellipse cx="152.5" cy="30" rx="1" ry="0.8" fill="#050505" filter="url(#b05)"/></g></svg>
<rect x="338" y="277.3" width="209.4" height="59.3" fill="none" stroke="#000" stroke-width="0.6"/><path d="M338,281.01h-2.7" stroke="#000" stroke-width="0.7"/><text x="332.1" y="284.01" text-anchor="end">46</text><path d="M338,308.19h-2.7" stroke="#000" stroke-width="0.7"/><text x="332.1" y="311.19" text-anchor="end">24</text><path d="M338,335.36h-2.7" stroke="#000" stroke-width="0.7"/><text x="332.1" y="338.36" text-anchor="end">2</text><path d="M372.9,336.6v2.7" stroke="#000" stroke-width="0.7"/><text x="372.9" y="348.8" text-anchor="middle">50</text><path d="M407.8,336.6v2.7" stroke="#000" stroke-width="0.7"/><text x="407.8" y="348.8" text-anchor="middle">100</text><path d="M442.7,336.6v2.7" stroke="#000" stroke-width="0.7"/><text x="442.7" y="348.8" text-anchor="middle">150</text><path d="M477.6,336.6v2.7" stroke="#000" stroke-width="0.7"/><text x="477.6" y="348.8" text-anchor="middle">200</text><path d="M512.5,336.6v2.7" stroke="#000" stroke-width="0.7"/><text x="512.5" y="348.8" text-anchor="middle">250</text><path d="M547.4,336.6v2.7" stroke="#000" stroke-width="0.7"/><text x="547.4" y="348.8" text-anchor="middle">300</text><text transform="translate(317,278.8) rotate(-90)" text-anchor="end">mm</text><text x="546.8" y="360.6" text-anchor="end">mm</text><text x="442.7" y="272.5" text-anchor="middle" font-weight="bold" style="font-size:8.55px">Dose difference</text><rect x="560.2" y="277.3" width="6" height="59.3" fill="url(#cbt)" stroke="#000" stroke-width="0.6"/><path d="M566.2,277.6h3" stroke="#000" stroke-width="0.7"/><text x="572.2" y="281.2">15</text><path d="M566.2,297.17h3" stroke="#000" stroke-width="0.7"/><text x="572.2" y="300.77">10</text><path d="M566.2,316.73h3" stroke="#000" stroke-width="0.7"/><text x="572.2" y="320.33">5</text><path d="M566.2,336.3h3" stroke="#000" stroke-width="0.7"/><text x="572.2" y="339.9">0</text><text transform="translate(594.2,307.75) rotate(-90)" text-anchor="middle" style="font-size:8.6px">Gy/10<tspan dy="-3.2" font-size="6">9</tspan><tspan dy="3.2"> particles</tspan></text>
<svg x="34" y="427.3" width="209.4" height="59.3" viewBox="0 0 209.4 59.3"><use href="#ct2"/></svg>
<rect x="34" y="427.3" width="209.4" height="59.3" fill="none" stroke="#000" stroke-width="0.6"/><path d="M34,431.01h-2.7" stroke="#000" stroke-width="0.7"/><text x="28.1" y="434.01" text-anchor="end">46</text><path d="M34,458.19h-2.7" stroke="#000" stroke-width="0.7"/><text x="28.1" y="461.19" text-anchor="end">24</text><path d="M34,485.36h-2.7" stroke="#000" stroke-width="0.7"/><text x="28.1" y="488.36" text-anchor="end">2</text><path d="M68.9,486.6v2.7" stroke="#000" stroke-width="0.7"/><text x="68.9" y="498.8" text-anchor="middle">50</text><path d="M103.8,486.6v2.7" stroke="#000" stroke-width="0.7"/><text x="103.8" y="498.8" text-anchor="middle">100</text><path d="M138.7,486.6v2.7" stroke="#000" stroke-width="0.7"/><text x="138.7" y="498.8" text-anchor="middle">150</text><path d="M173.6,486.6v2.7" stroke="#000" stroke-width="0.7"/><text x="173.6" y="498.8" text-anchor="middle">200</text><path d="M208.5,486.6v2.7" stroke="#000" stroke-width="0.7"/><text x="208.5" y="498.8" text-anchor="middle">250</text><path d="M243.4,486.6v2.7" stroke="#000" stroke-width="0.7"/><text x="243.4" y="498.8" text-anchor="middle">300</text><text transform="translate(13,428.8) rotate(-90)" text-anchor="end">mm</text><text x="242.8" y="510.6" text-anchor="end">mm</text><text x="138.7" y="422.5" text-anchor="middle" font-weight="bold" style="font-size:8.55px">CT scan</text><rect x="256.3" y="427.3" width="6.3" height="59.3" fill="url(#cbg)" stroke="#000" stroke-width="0.6"/><path d="M262.6,431h3" stroke="#000" stroke-width="0.7"/><text x="268" y="434.3">1000</text><path d="M262.6,458.8h3" stroke="#000" stroke-width="0.7"/><text x="268" y="462.1">0</text><path d="M262.6,486.6h3" stroke="#000" stroke-width="0.7"/><text x="268" y="489.9">−1000</text><text transform="translate(289.7,458.2) rotate(-90)" text-anchor="middle">HU</text>
<svg x="34" y="515.5" width="209.4" height="59.3" viewBox="0 0 209.4 59.3"><rect width="209.4" height="59.3" fill="#fff"/><use href="#ct2" opacity="0.35"/><g opacity="0.65" filter="url(#turbo)"><rect x="-5" y="-5" width="219.4" height="69.3" fill="#000"/><path d="M-10,12.5 L40,14.3 L50,13 L56,11.8 L60.5,12.5 L65,17 L67.5,24 L68,30.1 L67.5,37 L65,44 L60.5,48.5 L56,49.3 L50,48 L40,46 L-10,48Z" fill="#121212" filter="url(#b15)"/><path d="M-10,16.6 L40,17.2 L50,15.8 L56,14.2 L59.8,15 L63.4,18.6 L65.5,25 L66,30.1 L65.5,36 L63.4,42.4 L59.8,46.2 L56,47 L50,45.2 L40,42.8 L-10,43.2Z" fill="#262626" filter="url(#b1)"/><path d="M-10,21 L40,20.6 L50,18.5 L56,16 L59.5,16.8 L62.3,20 L64.1,26 L64.5,30.1 L64.1,35 L62.3,40.5 L59.5,44.2 L56,45.1 L50,42.5 L40,39.8 L-10,39Z" fill="#454545" filter="url(#b1)"/><path d="M7,24.3 L40,22.4 L44,21.5 L44,39 L40,38 L7,36Z" fill="#616161" filter="url(#bx3)"/><path d="M36,22.8 L40,22.4 L50,19.8 L56,17.3 L59,18.3 L61.3,21.5 L62.9,26.5 L63.3,30.1 L62.9,34.5 L61.3,39 L59,42.3 L56,43.3 L50,40.8 L40,38 L36,37.6Z" fill="#616161" filter="url(#b1)"/><path d="M27,25.5 L40,24.2 L50,21.5 L52,21 L52,39.6 L50,39 L40,36.1 L27,35Z" fill="#808080" filter="url(#bx4)"/><path d="M46,23 L50,21.5 L56,19.2 L58.5,20 L60.3,23 L61.5,27 L61.8,30.1 L61.5,34 L60.3,37.5 L58.5,40.3 L56,41.1 L50,39 L46,37.5Z" fill="#808080" filter="url(#b1)"/><path d="M46,26.5 L50,24.5 L53,23.5 L53,37 L50,36 L46,34Z" fill="#999999" filter="url(#bx3)"/><path d="M50.5,23.6 L52,22.6 L56,20.5 L58,21.2 L59.3,24 L60.1,27.5 L60.3,30.1 L60.1,33.5 L59.3,36.5 L58,39 L56,39.8 L52,37.8 L50.5,36.8Z" fill="#a6a6a6" filter="url(#b1)"/><ellipse cx="56" cy="30.1" rx="4.4" ry="9" fill="#cccccc" filter="url(#b05)"/><ellipse cx="56.2" cy="30.1" rx="3.6" ry="8.3" fill="#ffffff" filter="url(#b05)"/></g></svg>
<rect x="34" y="515.5" width="209.4" height="59.3" fill="none" stroke="#000" stroke-width="0.6"/><path d="M34,519.21h-2.7" stroke="#000" stroke-width="0.7"/><text x="28.1" y="522.21" text-anchor="end">46</text><path d="M34,546.39h-2.7" stroke="#000" stroke-width="0.7"/><text x="28.1" y="549.39" text-anchor="end">24</text><path d="M34,573.56h-2.7" stroke="#000" stroke-width="0.7"/><text x="28.1" y="576.56" text-anchor="end">2</text><path d="M68.9,574.8v2.7" stroke="#000" stroke-width="0.7"/><text x="68.9" y="587" text-anchor="middle">50</text><path d="M103.8,574.8v2.7" stroke="#000" stroke-width="0.7"/><text x="103.8" y="587" text-anchor="middle">100</text><path d="M138.7,574.8v2.7" stroke="#000" stroke-width="0.7"/><text x="138.7" y="587" text-anchor="middle">150</text><path d="M173.6,574.8v2.7" stroke="#000" stroke-width="0.7"/><text x="173.6" y="587" text-anchor="middle">200</text><path d="M208.5,574.8v2.7" stroke="#000" stroke-width="0.7"/><text x="208.5" y="587" text-anchor="middle">250</text><path d="M243.4,574.8v2.7" stroke="#000" stroke-width="0.7"/><text x="243.4" y="587" text-anchor="middle">300</text><text transform="translate(13,517) rotate(-90)" text-anchor="end">mm</text><text x="242.8" y="598.8" text-anchor="end">mm</text><text x="138.7" y="510.7" text-anchor="middle" font-weight="bold" style="font-size:8.55px">Target (MC)</text><rect x="256.2" y="515.5" width="6" height="59.3" fill="url(#cbt)" stroke="#000" stroke-width="0.6"/><path d="M262.2,515.8h3" stroke="#000" stroke-width="0.7"/><text x="268.2" y="519.4">15</text><path d="M262.2,535.37h3" stroke="#000" stroke-width="0.7"/><text x="268.2" y="538.97">10</text><path d="M262.2,554.93h3" stroke="#000" stroke-width="0.7"/><text x="268.2" y="558.53">5</text><path d="M262.2,574.5h3" stroke="#000" stroke-width="0.7"/><text x="268.2" y="578.1">0</text><text transform="translate(290.2,545.95) rotate(-90)" text-anchor="middle" style="font-size:8.6px">Gy/10<tspan dy="-3.2" font-size="6">9</tspan><tspan dy="3.2"> particles</tspan></text>
<svg x="34" y="604" width="209.4" height="59.3" viewBox="0 0 209.4 59.3"><rect width="209.4" height="59.3" fill="#fff"/><use href="#ct2" opacity="0.35"/><g opacity="0.65" filter="url(#turbo)"><rect x="-5" y="-5" width="219.4" height="69.3" fill="#000"/><path d="M-10,12.5 L40,14.3 L50,13 L56,11.8 L60.5,12.5 L65,17 L67.5,24 L68,30.1 L67.5,37 L65,44 L60.5,48.5 L56,49.3 L50,48 L40,46 L-10,48Z" fill="#121212" filter="url(#b15)"/><path d="M-10,16.6 L40,17.2 L50,15.8 L56,14.2 L59.8,15 L63.4,18.6 L65.5,25 L66,30.1 L65.5,36 L63.4,42.4 L59.8,46.2 L56,47 L50,45.2 L40,42.8 L-10,43.2Z" fill="#262626" filter="url(#b1)"/><path d="M-10,21 L40,20.6 L50,18.5 L56,16 L59.5,16.8 L62.3,20 L64.1,26 L64.5,30.1 L64.1,35 L62.3,40.5 L59.5,44.2 L56,45.1 L50,42.5 L40,39.8 L-10,39Z" fill="#454545" filter="url(#b1)"/><path d="M7,24.3 L40,22.4 L44,21.5 L44,39 L40,38 L7,36Z" fill="#616161" filter="url(#bx3)"/><path d="M36,22.8 L40,22.4 L50,19.8 L56,17.3 L59,18.3 L61.3,21.5 L62.9,26.5 L63.3,30.1 L62.9,34.5 L61.3,39 L59,42.3 L56,43.3 L50,40.8 L40,38 L36,37.6Z" fill="#616161" filter="url(#b1)"/><path d="M27,25.5 L40,24.2 L50,21.5 L52,21 L52,39.6 L50,39 L40,36.1 L27,35Z" fill="#808080" filter="url(#bx4)"/><path d="M46,23 L50,21.5 L56,19.2 L58.5,20 L60.3,23 L61.5,27 L61.8,30.1 L61.5,34 L60.3,37.5 L58.5,40.3 L56,41.1 L50,39 L46,37.5Z" fill="#808080" filter="url(#b1)"/><path d="M46,26.5 L50,24.5 L53,23.5 L53,37 L50,36 L46,34Z" fill="#999999" filter="url(#bx3)"/><path d="M50.5,23.6 L52,22.6 L56,20.5 L58,21.2 L59.3,24 L60.1,27.5 L60.3,30.1 L60.1,33.5 L59.3,36.5 L58,39 L56,39.8 L52,37.8 L50.5,36.8Z" fill="#a6a6a6" filter="url(#b1)"/><ellipse cx="56" cy="30.1" rx="4.4" ry="9" fill="#cccccc" filter="url(#b05)"/><ellipse cx="56.2" cy="30.1" rx="3.6" ry="8.3" fill="#ffffff" filter="url(#b05)"/></g></svg>
<rect x="34" y="604" width="209.4" height="59.3" fill="none" stroke="#000" stroke-width="0.6"/><path d="M34,607.71h-2.7" stroke="#000" stroke-width="0.7"/><text x="28.1" y="610.71" text-anchor="end">46</text><path d="M34,634.89h-2.7" stroke="#000" stroke-width="0.7"/><text x="28.1" y="637.89" text-anchor="end">24</text><path d="M34,662.06h-2.7" stroke="#000" stroke-width="0.7"/><text x="28.1" y="665.06" text-anchor="end">2</text><path d="M68.9,663.3v2.7" stroke="#000" stroke-width="0.7"/><text x="68.9" y="675.5" text-anchor="middle">50</text><path d="M103.8,663.3v2.7" stroke="#000" stroke-width="0.7"/><text x="103.8" y="675.5" text-anchor="middle">100</text><path d="M138.7,663.3v2.7" stroke="#000" stroke-width="0.7"/><text x="138.7" y="675.5" text-anchor="middle">150</text><path d="M173.6,663.3v2.7" stroke="#000" stroke-width="0.7"/><text x="173.6" y="675.5" text-anchor="middle">200</text><path d="M208.5,663.3v2.7" stroke="#000" stroke-width="0.7"/><text x="208.5" y="675.5" text-anchor="middle">250</text><path d="M243.4,663.3v2.7" stroke="#000" stroke-width="0.7"/><text x="243.4" y="675.5" text-anchor="middle">300</text><text transform="translate(13,605.5) rotate(-90)" text-anchor="end">mm</text><text x="242.8" y="687.3" text-anchor="end">mm</text><text x="138.7" y="599.2" text-anchor="middle" font-weight="bold" style="font-size:8.55px">Predicted (model)</text><rect x="256.2" y="604" width="6" height="59.3" fill="url(#cbt)" stroke="#000" stroke-width="0.6"/><path d="M262.2,604.3h3" stroke="#000" stroke-width="0.7"/><text x="268.2" y="607.9">15</text><path d="M262.2,623.87h3" stroke="#000" stroke-width="0.7"/><text x="268.2" y="627.47">10</text><path d="M262.2,643.43h3" stroke="#000" stroke-width="0.7"/><text x="268.2" y="647.03">5</text><path d="M262.2,663h3" stroke="#000" stroke-width="0.7"/><text x="268.2" y="666.6">0</text><text transform="translate(290.2,634.45) rotate(-90)" text-anchor="middle" style="font-size:8.6px">Gy/10<tspan dy="-3.2" font-size="6">9</tspan><tspan dy="3.2"> particles</tspan></text>
<svg x="34" y="692.3" width="209.4" height="59.3" viewBox="0 0 209.4 59.3"><rect width="209.4" height="59.3" fill="#fff"/><use href="#ct2" opacity="0.35"/><g opacity="0.65" filter="url(#turbo)"><rect x="-5" y="-5" width="219.4" height="69.3" fill="#000"/><ellipse cx="62" cy="31" rx="8.5" ry="17" fill="#0b0b0b" filter="url(#b2)"/><ellipse cx="63.6" cy="35.5" rx="3.6" ry="4.2" fill="#1f1f1f" filter="url(#b1)"/><ellipse cx="64.5" cy="34.5" rx="2" ry="1.6" fill="#292929" filter="url(#b05)"/><path d="M55.5,14.8 L55.8,27.6" fill="none" stroke="#171717" stroke-width="1.5" stroke-linecap="round" stroke-linejoin="round" filter="url(#b05)"/><ellipse cx="59.5" cy="24" rx="1.6" ry="3" fill="#171717" filter="url(#b05)"/><ellipse cx="62.5" cy="27.5" rx="1.5" ry="1.5" fill="#1a1a1a" filter="url(#b05)"/><ellipse cx="66" cy="42" rx="2.2" ry="2.6" fill="#161616" filter="url(#b1)"/><ellipse cx="58" cy="40" rx="1.3" ry="3.5" fill="#141414" filter="url(#b05)"/><ellipse cx="61" cy="44" rx="1.5" ry="2" fill="#171717" filter="url(#b05)"/><ellipse cx="68" cy="31" rx="1.5" ry="2.5" fill="#121212" filter="url(#b05)"/><ellipse cx="30" cy="37" rx="6" ry="1" fill="#080808" filter="url(#b1)"/></g></svg>
<rect x="34" y="692.3" width="209.4" height="59.3" fill="none" stroke="#000" stroke-width="0.6"/><path d="M34,696.01h-2.7" stroke="#000" stroke-width="0.7"/><text x="28.1" y="699.01" text-anchor="end">46</text><path d="M34,723.19h-2.7" stroke="#000" stroke-width="0.7"/><text x="28.1" y="726.19" text-anchor="end">24</text><path d="M34,750.36h-2.7" stroke="#000" stroke-width="0.7"/><text x="28.1" y="753.36" text-anchor="end">2</text><path d="M68.9,751.6v2.7" stroke="#000" stroke-width="0.7"/><text x="68.9" y="763.8" text-anchor="middle">50</text><path d="M103.8,751.6v2.7" stroke="#000" stroke-width="0.7"/><text x="103.8" y="763.8" text-anchor="middle">100</text><path d="M138.7,751.6v2.7" stroke="#000" stroke-width="0.7"/><text x="138.7" y="763.8" text-anchor="middle">150</text><path d="M173.6,751.6v2.7" stroke="#000" stroke-width="0.7"/><text x="173.6" y="763.8" text-anchor="middle">200</text><path d="M208.5,751.6v2.7" stroke="#000" stroke-width="0.7"/><text x="208.5" y="763.8" text-anchor="middle">250</text><path d="M243.4,751.6v2.7" stroke="#000" stroke-width="0.7"/><text x="243.4" y="763.8" text-anchor="middle">300</text><text transform="translate(13,693.8) rotate(-90)" text-anchor="end">mm</text><text x="242.8" y="775.6" text-anchor="end">mm</text><text x="138.7" y="687.5" text-anchor="middle" font-weight="bold" style="font-size:8.55px">Dose difference</text><rect x="256.2" y="692.3" width="6" height="59.3" fill="url(#cbt)" stroke="#000" stroke-width="0.6"/><path d="M262.2,692.6h3" stroke="#000" stroke-width="0.7"/><text x="268.2" y="696.2">15</text><path d="M262.2,712.17h3" stroke="#000" stroke-width="0.7"/><text x="268.2" y="715.77">10</text><path d="M262.2,731.73h3" stroke="#000" stroke-width="0.7"/><text x="268.2" y="735.33">5</text><path d="M262.2,751.3h3" stroke="#000" stroke-width="0.7"/><text x="268.2" y="754.9">0</text><text transform="translate(290.2,722.75) rotate(-90)" text-anchor="middle" style="font-size:8.6px">Gy/10<tspan dy="-3.2" font-size="6">9</tspan><tspan dy="3.2"> particles</tspan></text>
<svg x="338" y="426.5" width="209.4" height="59.3" viewBox="0 0 209.4 59.3"><use href="#ct2"/></svg>
<rect x="338" y="426.5" width="209.4" height="59.3" fill="none" stroke="#000" stroke-width="0.6"/><path d="M338,430.21h-2.7" stroke="#000" stroke-width="0.7"/><text x="332.1" y="433.21" text-anchor="end">46</text><path d="M338,457.39h-2.7" stroke="#000" stroke-width="0.7"/><text x="332.1" y="460.39" text-anchor="end">24</text><path d="M338,484.56h-2.7" stroke="#000" stroke-width="0.7"/><text x="332.1" y="487.56" text-anchor="end">2</text><path d="M372.9,485.8v2.7" stroke="#000" stroke-width="0.7"/><text x="372.9" y="498" text-anchor="middle">50</text><path d="M407.8,485.8v2.7" stroke="#000" stroke-width="0.7"/><text x="407.8" y="498" text-anchor="middle">100</text><path d="M442.7,485.8v2.7" stroke="#000" stroke-width="0.7"/><text x="442.7" y="498" text-anchor="middle">150</text><path d="M477.6,485.8v2.7" stroke="#000" stroke-width="0.7"/><text x="477.6" y="498" text-anchor="middle">200</text><path d="M512.5,485.8v2.7" stroke="#000" stroke-width="0.7"/><text x="512.5" y="498" text-anchor="middle">250</text><path d="M547.4,485.8v2.7" stroke="#000" stroke-width="0.7"/><text x="547.4" y="498" text-anchor="middle">300</text><text transform="translate(317,428) rotate(-90)" text-anchor="end">mm</text><text x="546.8" y="509.8" text-anchor="end">mm</text><text x="442.7" y="421.7" text-anchor="middle" font-weight="bold" style="font-size:8.55px">CT scan</text><rect x="560.3" y="426.5" width="6.3" height="59.3" fill="url(#cbg)" stroke="#000" stroke-width="0.6"/><path d="M566.6,430.2h3" stroke="#000" stroke-width="0.7"/><text x="572" y="433.5">1000</text><path d="M566.6,458h3" stroke="#000" stroke-width="0.7"/><text x="572" y="461.3">0</text><path d="M566.6,485.8h3" stroke="#000" stroke-width="0.7"/><text x="572" y="489.1">−1000</text><text transform="translate(593.7,457.4) rotate(-90)" text-anchor="middle">HU</text>
<svg x="338" y="515.2" width="209.4" height="59.3" viewBox="0 0 209.4 59.3"><rect width="209.4" height="59.3" fill="#fff"/><use href="#ct2" opacity="0.35"/><g opacity="0.65" filter="url(#turbo)"><rect x="-5" y="-5" width="219.4" height="69.3" fill="#000"/><path d="M-10,12.5 L40,14.3 L50,13 L56,11.8 L60.5,12.5 L65,17 L67.5,24 L68,30.1 L67.5,37 L65,44 L60.5,48.5 L56,49.3 L50,48 L40,46 L-10,48Z" fill="#121212" filter="url(#b15)"/><path d="M-10,16.6 L40,17.2 L50,15.8 L56,14.2 L59.8,15 L63.4,18.6 L65.5,25 L66,30.1 L65.5,36 L63.4,42.4 L59.8,46.2 L56,47 L50,45.2 L40,42.8 L-10,43.2Z" fill="#262626" filter="url(#b1)"/><path d="M-10,21 L40,20.6 L50,18.5 L56,16 L59.5,16.8 L62.3,20 L64.1,26 L64.5,30.1 L64.1,35 L62.3,40.5 L59.5,44.2 L56,45.1 L50,42.5 L40,39.8 L-10,39Z" fill="#454545" filter="url(#b1)"/><path d="M7,24.3 L40,22.4 L44,21.5 L44,39 L40,38 L7,36Z" fill="#616161" filter="url(#bx3)"/><path d="M36,22.8 L40,22.4 L50,19.8 L56,17.3 L59,18.3 L61.3,21.5 L62.9,26.5 L63.3,30.1 L62.9,34.5 L61.3,39 L59,42.3 L56,43.3 L50,40.8 L40,38 L36,37.6Z" fill="#616161" filter="url(#b1)"/><path d="M27,25.5 L40,24.2 L50,21.5 L52,21 L52,39.6 L50,39 L40,36.1 L27,35Z" fill="#808080" filter="url(#bx4)"/><path d="M46,23 L50,21.5 L56,19.2 L58.5,20 L60.3,23 L61.5,27 L61.8,30.1 L61.5,34 L60.3,37.5 L58.5,40.3 L56,41.1 L50,39 L46,37.5Z" fill="#808080" filter="url(#b1)"/><path d="M46,26.5 L50,24.5 L53,23.5 L53,37 L50,36 L46,34Z" fill="#999999" filter="url(#bx3)"/><path d="M50.5,23.6 L52,22.6 L56,20.5 L58,21.2 L59.3,24 L60.1,27.5 L60.3,30.1 L60.1,33.5 L59.3,36.5 L58,39 L56,39.8 L52,37.8 L50.5,36.8Z" fill="#a6a6a6" filter="url(#b1)"/><ellipse cx="56" cy="30.1" rx="4.4" ry="9" fill="#cccccc" filter="url(#b05)"/><ellipse cx="56.2" cy="30.1" rx="3.6" ry="8.3" fill="#ffffff" filter="url(#b05)"/></g></svg>
<rect x="338" y="515.2" width="209.4" height="59.3" fill="none" stroke="#000" stroke-width="0.6"/><path d="M338,518.91h-2.7" stroke="#000" stroke-width="0.7"/><text x="332.1" y="521.91" text-anchor="end">46</text><path d="M338,546.09h-2.7" stroke="#000" stroke-width="0.7"/><text x="332.1" y="549.09" text-anchor="end">24</text><path d="M338,573.26h-2.7" stroke="#000" stroke-width="0.7"/><text x="332.1" y="576.26" text-anchor="end">2</text><path d="M372.9,574.5v2.7" stroke="#000" stroke-width="0.7"/><text x="372.9" y="586.7" text-anchor="middle">50</text><path d="M407.8,574.5v2.7" stroke="#000" stroke-width="0.7"/><text x="407.8" y="586.7" text-anchor="middle">100</text><path d="M442.7,574.5v2.7" stroke="#000" stroke-width="0.7"/><text x="442.7" y="586.7" text-anchor="middle">150</text><path d="M477.6,574.5v2.7" stroke="#000" stroke-width="0.7"/><text x="477.6" y="586.7" text-anchor="middle">200</text><path d="M512.5,574.5v2.7" stroke="#000" stroke-width="0.7"/><text x="512.5" y="586.7" text-anchor="middle">250</text><path d="M547.4,574.5v2.7" stroke="#000" stroke-width="0.7"/><text x="547.4" y="586.7" text-anchor="middle">300</text><text transform="translate(317,516.7) rotate(-90)" text-anchor="end">mm</text><text x="546.8" y="598.5" text-anchor="end">mm</text><text x="442.7" y="510.4" text-anchor="middle" font-weight="bold" style="font-size:8.55px">Target (MC)</text><rect x="560.2" y="515.2" width="6" height="59.3" fill="url(#cbt)" stroke="#000" stroke-width="0.6"/><path d="M566.2,515.5h3" stroke="#000" stroke-width="0.7"/><text x="572.2" y="519.1">15</text><path d="M566.2,535.07h3" stroke="#000" stroke-width="0.7"/><text x="572.2" y="538.67">10</text><path d="M566.2,554.63h3" stroke="#000" stroke-width="0.7"/><text x="572.2" y="558.23">5</text><path d="M566.2,574.2h3" stroke="#000" stroke-width="0.7"/><text x="572.2" y="577.8">0</text><text transform="translate(594.2,545.65) rotate(-90)" text-anchor="middle" style="font-size:8.6px">Gy/10<tspan dy="-3.2" font-size="6">9</tspan><tspan dy="3.2"> particles</tspan></text>
<svg x="338" y="603.7" width="209.4" height="59.3" viewBox="0 0 209.4 59.3"><rect width="209.4" height="59.3" fill="#fff"/><use href="#ct2" opacity="0.35"/><g opacity="0.65" filter="url(#turbo)"><rect x="-5" y="-5" width="219.4" height="69.3" fill="#000"/><path d="M-10,12.5 L40,14.3 L50,12.8 L56,11.3 L59,10.5 L66,11 L69.5,14.5 L71.8,22 L73.7,31.5 L76.4,38 L80.5,40 L81,48 L79,52 L56,53 L48,49.5 L40,46 L-10,48Z" fill="#121212" filter="url(#b1)"/><path d="M-10,16.6 L40,17.2 L50,15.5 L56,13.8 L59,13 L65,13.3 L68.2,16.5 L70.6,22 L72.5,31.5 L75.2,39 L79,41 L79.3,47 L76.5,49.5 L56,50 L48,46.3 L40,42.8 L-10,43.2Z" fill="#262626" filter="url(#b1)"/><path d="M-10,21 L40,20.6 L50,17.8 L56,15.6 L59,15 L64,15.3 L66.8,18 L69.4,23 L71.3,31.5 L73.6,39.5 L77,41.5 L77,44.5 L74,46 L56,46 L48,43 L40,39.8 L-10,39Z" fill="#454545" filter="url(#b1)"/><path d="M7,24.3 L40,22.4 L44,21.3 L44,39.5 L40,38 L7,36Z" fill="#616161" filter="url(#bx3)"/><path d="M36,22.8 L40,22.4 L50,19.5 L56,17.2 L63,17.5 L65.5,20 L68.2,24 L70.1,31.5 L72,38.8 L75.6,40.5 L75.6,42.5 L70,43.5 L56,43.3 L48,41 L40,38 L36,37.6Z" fill="#616161" filter="url(#b1)"/><path d="M25,25.5 L40,24.2 L50,21.3 L52,21 L52,39.8 L48,39 L40,36.1 L25,35Z" fill="#808080" filter="url(#bx4)"/><path d="M45,23 L50,21.3 L56,18.8 L63,19.3 L65,21.5 L67.2,25 L69,31.5 L70.6,38 L74,39.6 L74,41.2 L66,42 L56,41.6 L48,39 L45,37.8Z" fill="#808080" filter="url(#b1)"/><path d="M47,26 L52,23.8 L54,23 L54,37.5 L52,37.2 L47,34.3Z" fill="#999999" filter="url(#bx3)"/><path d="M51,23.3 L56,20.2 L63,20.6 L64.5,22.5 L66.4,26 L68,31.5 L69.6,37.6 L72,39 L72,40.6 L64,40.6 L56,40 L51,37.5Z" fill="#a1a1a1" filter="url(#b1)"/><path d="M54.5,23 L57,21.3 L62.5,21.3 L65,24 L66.6,29.5 L67.4,33 L68.6,37.5 L67,39 L62,39 L57,38.7 L54.5,36.7 L53.9,30Z" fill="#cccccc" filter="url(#b05)"/><path d="M55.5,23.6 L57.5,22.5 L62,22.5 L64.3,25 L66.2,27.5 L67.9,29.9 L66.5,32 L66.5,35 L65,37.4 L61,38 L57.5,37.8 L55.7,36.3 L55.2,30Z" fill="#ffffff" filter="url(#b05)"/></g></svg>
<rect x="338" y="603.7" width="209.4" height="59.3" fill="none" stroke="#000" stroke-width="0.6"/><path d="M338,607.41h-2.7" stroke="#000" stroke-width="0.7"/><text x="332.1" y="610.41" text-anchor="end">46</text><path d="M338,634.59h-2.7" stroke="#000" stroke-width="0.7"/><text x="332.1" y="637.59" text-anchor="end">24</text><path d="M338,661.76h-2.7" stroke="#000" stroke-width="0.7"/><text x="332.1" y="664.76" text-anchor="end">2</text><path d="M372.9,663v2.7" stroke="#000" stroke-width="0.7"/><text x="372.9" y="675.2" text-anchor="middle">50</text><path d="M407.8,663v2.7" stroke="#000" stroke-width="0.7"/><text x="407.8" y="675.2" text-anchor="middle">100</text><path d="M442.7,663v2.7" stroke="#000" stroke-width="0.7"/><text x="442.7" y="675.2" text-anchor="middle">150</text><path d="M477.6,663v2.7" stroke="#000" stroke-width="0.7"/><text x="477.6" y="675.2" text-anchor="middle">200</text><path d="M512.5,663v2.7" stroke="#000" stroke-width="0.7"/><text x="512.5" y="675.2" text-anchor="middle">250</text><path d="M547.4,663v2.7" stroke="#000" stroke-width="0.7"/><text x="547.4" y="675.2" text-anchor="middle">300</text><text transform="translate(317,605.2) rotate(-90)" text-anchor="end">mm</text><text x="546.8" y="687" text-anchor="end">mm</text><text x="442.7" y="598.9" text-anchor="middle" font-weight="bold" style="font-size:8.55px">Predicted (model)</text><rect x="560.2" y="603.7" width="6" height="59.3" fill="url(#cbt)" stroke="#000" stroke-width="0.6"/><path d="M566.2,604h3" stroke="#000" stroke-width="0.7"/><text x="572.2" y="607.6">15</text><path d="M566.2,623.57h3" stroke="#000" stroke-width="0.7"/><text x="572.2" y="627.17">10</text><path d="M566.2,643.13h3" stroke="#000" stroke-width="0.7"/><text x="572.2" y="646.73">5</text><path d="M566.2,662.7h3" stroke="#000" stroke-width="0.7"/><text x="572.2" y="666.3">0</text><text transform="translate(594.2,634.15) rotate(-90)" text-anchor="middle" style="font-size:8.6px">Gy/10<tspan dy="-3.2" font-size="6">9</tspan><tspan dy="3.2"> particles</tspan></text>
<svg x="338" y="692.2" width="209.4" height="59.3" viewBox="0 0 209.4 59.3"><rect width="209.4" height="59.3" fill="#fff"/><use href="#ct2" opacity="0.35"/><g opacity="0.65" filter="url(#turbo)"><rect x="-5" y="-5" width="219.4" height="69.3" fill="#000"/><ellipse cx="51" cy="30" rx="7" ry="8" fill="#0a0a0a" filter="url(#b3)"/><clipPath id="cpdd"><path d="M57.4,-5 L57.4,12 Q57.8,30 60.2,42.2 Q62.2,46.7 66.2,48.7 L66.2,65 L130,65 L130,-5Z"/></clipPath><clipPath id="cpdl"><path d="M56.9,-5 L56.9,12 Q57.3,30 59.7,42.2 Q61.7,46.7 65.7,48.7 L65.7,65 L-5,65 L-5,-5Z"/></clipPath><g clip-path="url(#cpdd)"><path d="M70,40 L78.5,49" fill="none" stroke="#171717" stroke-width="4" stroke-linecap="round" stroke-linejoin="round" filter="url(#b15)"/><ellipse cx="64" cy="29.4" rx="12.3" ry="18.5" fill="#212121" filter="url(#b15)"/><ellipse cx="64" cy="29.2" rx="10.4" ry="16.3" fill="#454545" filter="url(#b1)"/><path d="M69,38 L74,43.5" fill="none" stroke="#383838" stroke-width="3" stroke-linecap="round" stroke-linejoin="round" filter="url(#b1)"/><ellipse cx="64" cy="28.6" rx="8.6" ry="14.4" fill="#6b6b6b" filter="url(#b1)"/><path d="M68.5,37 L71.5,40.5" fill="none" stroke="#616161" stroke-width="2.6" stroke-linecap="round" stroke-linejoin="round" filter="url(#b1)"/><ellipse cx="64.8" cy="28.4" rx="4.5" ry="10.2" fill="#999999" filter="url(#b1)"/><ellipse cx="64.4" cy="29.4" rx="2.5" ry="5.2" fill="#cccccc" filter="url(#b05)"/><ellipse cx="64.2" cy="29.8" rx="1.5" ry="3.4" fill="#e6e6e6" filter="url(#b05)"/></g><g clip-path="url(#cpdl)"><path d="M55.6,16 Q55.2,30 57.6,43.5" fill="none" stroke="#212121" stroke-width="5" stroke-linecap="round" filter="url(#b1)"/><path d="M55.9,19 Q55.5,30 57.6,41" fill="none" stroke="#545454" stroke-width="2.4" stroke-linecap="round" filter="url(#b05)"/></g></g></svg>
<rect x="338" y="692.2" width="209.4" height="59.3" fill="none" stroke="#000" stroke-width="0.6"/><path d="M338,695.91h-2.7" stroke="#000" stroke-width="0.7"/><text x="332.1" y="698.91" text-anchor="end">46</text><path d="M338,723.09h-2.7" stroke="#000" stroke-width="0.7"/><text x="332.1" y="726.09" text-anchor="end">24</text><path d="M338,750.26h-2.7" stroke="#000" stroke-width="0.7"/><text x="332.1" y="753.26" text-anchor="end">2</text><path d="M372.9,751.5v2.7" stroke="#000" stroke-width="0.7"/><text x="372.9" y="763.7" text-anchor="middle">50</text><path d="M407.8,751.5v2.7" stroke="#000" stroke-width="0.7"/><text x="407.8" y="763.7" text-anchor="middle">100</text><path d="M442.7,751.5v2.7" stroke="#000" stroke-width="0.7"/><text x="442.7" y="763.7" text-anchor="middle">150</text><path d="M477.6,751.5v2.7" stroke="#000" stroke-width="0.7"/><text x="477.6" y="763.7" text-anchor="middle">200</text><path d="M512.5,751.5v2.7" stroke="#000" stroke-width="0.7"/><text x="512.5" y="763.7" text-anchor="middle">250</text><path d="M547.4,751.5v2.7" stroke="#000" stroke-width="0.7"/><text x="547.4" y="763.7" text-anchor="middle">300</text><text transform="translate(317,693.7) rotate(-90)" text-anchor="end">mm</text><text x="546.8" y="775.5" text-anchor="end">mm</text><text x="442.7" y="687.4" text-anchor="middle" font-weight="bold" style="font-size:8.55px">Dose difference</text><rect x="560.2" y="692.2" width="6" height="59.3" fill="url(#cbt)" stroke="#000" stroke-width="0.6"/><path d="M566.2,692.5h3" stroke="#000" stroke-width="0.7"/><text x="572.2" y="696.1">15</text><path d="M566.2,712.07h3" stroke="#000" stroke-width="0.7"/><text x="572.2" y="715.67">10</text><path d="M566.2,731.63h3" stroke="#000" stroke-width="0.7"/><text x="572.2" y="735.23">5</text><path d="M566.2,751.2h3" stroke="#000" stroke-width="0.7"/><text x="572.2" y="754.8">0</text><text transform="translate(594.2,722.65) rotate(-90)" text-anchor="middle" style="font-size:8.6px">Gy/10<tspan dy="-3.2" font-size="6">9</tspan><tspan dy="3.2"> particles</tspan></text>
<text class="cap" x="66.6" y="387.3" textLength="166.2" lengthAdjust="spacingAndGlyphs"><tspan font-weight="bold">(a)</tspan>  DoTA’s worst prediction.</text><text class="cap" x="304.5" y="387.8" textLength="296.5" lengthAdjust="spacingAndGlyphs"><tspan font-weight="bold">(b)</tspan>  Pencil beam algorithm prediction of the worst</text><text class="cap" x="304.5" y="402.7" textLength="77.2" lengthAdjust="spacingAndGlyphs">DoTA sample.</text><text class="cap" x="1.2" y="802.2" textLength="297.8" lengthAdjust="spacingAndGlyphs"><tspan font-weight="bold">(c)</tspan>  DoTA’s prediction of the worst pencil beam al-</text><text class="cap" x="0.3" y="817.3" textLength="88.9" lengthAdjust="spacingAndGlyphs">gorithm sample.</text><text class="cap" x="327" y="802.3" textLength="252" lengthAdjust="spacingAndGlyphs"><tspan font-weight="bold">(d)</tspan>  Pencil beam algorithm worst prediction.</text>
</svg>

</body></html>
